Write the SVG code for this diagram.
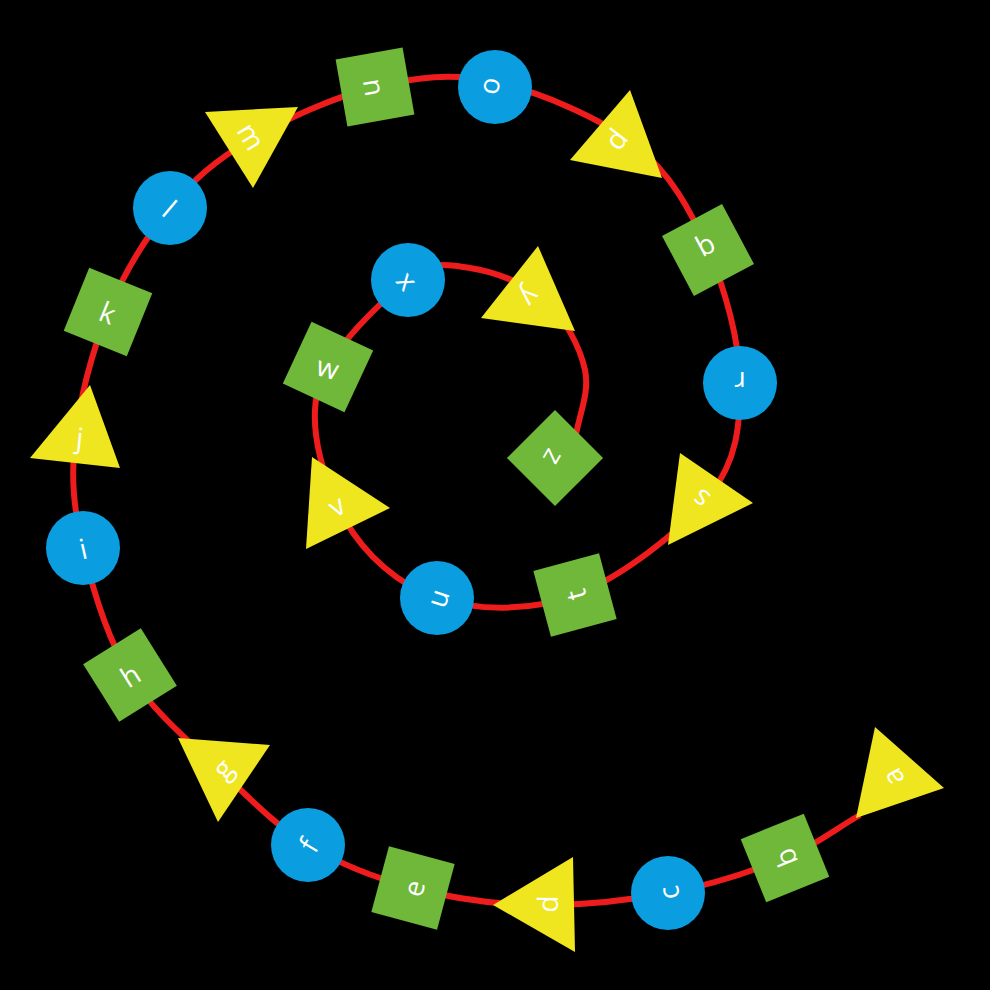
<svg xmlns="http://www.w3.org/2000/svg" width="990" height="990" viewBox="0 0 990 990">
<style>
.c{fill:#0a9ee0}.s{fill:#6fb83a}.t{fill:#f0e620}
.l{fill:#fff;font-family:"Open Sans",sans-serif;font-size:28px;text-anchor:middle;dominant-baseline:central}
</style>
<defs><rect id="sq" x="-34" y="-34" width="68" height="68"/></defs>
<rect width="990" height="990" fill="#000"/>
<g id="connectors"><path fill="none" stroke="#ee1c1c" stroke-width="6" d="M860,815 C835,829 817,845 785,858 C753,871 709.7,885.2 668,893 C626.3,900.8 577.5,905.8 535,905 C492.5,904.2 450.8,898 413,888 C375.2,878 339.3,863.8 308,845 C276.7,826.2 254.7,803.3 225,775 C195.3,746.7 153.7,712.8 130,675 C106.3,637.2 92.2,587.2 83,548 C73.8,508.8 70.8,479.3 75,440 C79.2,400.7 92.2,350.7 108,312 C123.8,273.3 146.3,236.7 170,208 C193.7,179.3 215.8,160.2 250,140 C284.2,119.8 334.2,96.7 375,87 C415.8,77.3 451.7,72.3 495,82 C538.3,91.7 599.5,117 635,145 C670.5,173 690.5,210.3 708,250 C725.5,289.7 739.7,342.2 740,383 C740.3,423.8 737.5,459.7 710,495 C682.5,530.3 620.5,577.8 575,595 C529.5,612.2 475.3,610.5 437,598 C398.7,585.5 364.8,554.7 345,520 C325.2,485.3 307.5,430 318,390 C328.5,350 382.7,300.3 408,280 C433.3,259.7 447.2,264.7 470,268 C492.8,271.3 525.8,283 545,300 C564.2,317 580,346.7 585,370 C590,393.3 578.3,416.7 575,440"/></g>
<g id="a"><polygon class="t" points="875,727 944,788 856,818"/><text class="l" transform="translate(892,778) rotate(241)">a</text></g>
<g id="b"><use href="#sq" class="s" transform="translate(785,858) rotate(-22)"/><text class="l" transform="translate(785,858) rotate(248)">b</text></g>
<g id="c"><circle class="c" cx="668" cy="893" r="37"/><text class="l" transform="translate(668,893) rotate(259)">c</text></g>
<g id="d"><polygon class="t" points="493,905 573,857 575,952"/><text class="l" transform="translate(547,904) rotate(271)">d</text></g>
<g id="e"><use href="#sq" class="s" transform="translate(413,888) rotate(15)"/><text class="l" transform="translate(413,888) rotate(285)">e</text></g>
<g id="f"><circle class="c" cx="308" cy="845" r="37"/><text class="l" transform="translate(308,845) rotate(301)">f</text></g>
<g id="g"><polygon class="t" points="178,738 270,745 218,822"/><text class="l" transform="translate(222,768) rotate(314)">g</text></g>
<g id="h"><use href="#sq" class="s" transform="translate(130,675) rotate(-32)"/><text class="l" transform="translate(130,675) rotate(328)">h</text></g>
<g id="i"><circle class="c" cx="83" cy="548" r="37"/><text class="l" transform="translate(83,548) rotate(347)">i</text></g>
<g id="j"><polygon class="t" points="30,458 90,385 120,468"/><text class="l" transform="translate(80,437) rotate(6)">j</text></g>
<g id="k"><use href="#sq" class="s" transform="translate(108,312) rotate(22)"/><text class="l" transform="translate(108,312) rotate(22)">k</text></g>
<g id="l"><circle class="c" cx="170" cy="208" r="37"/><text class="l" transform="translate(170,208) rotate(40)">l</text></g>
<g id="m"><polygon class="t" points="205,112 298,107 253,188"/><text class="l" transform="translate(252,136) rotate(59)">m</text></g>
<g id="n"><use href="#sq" class="s" transform="translate(375,87) rotate(-10)"/><text class="l" transform="translate(375,87) rotate(80)">n</text></g>
<g id="o"><circle class="c" cx="495" cy="87" r="37"/><text class="l" transform="translate(495,87) rotate(103)">o</text></g>
<g id="p"><polygon class="t" points="570,160 630,90 662,178"/><text class="l" transform="translate(621,143) rotate(128)">p</text></g>
<g id="q"><use href="#sq" class="s" transform="translate(708,250) rotate(-28)"/><text class="l" transform="translate(708,250) rotate(152)">q</text></g>
<g id="r"><circle class="c" cx="740" cy="383" r="37"/><text class="l" transform="translate(740,383) rotate(180)">r</text></g>
<g id="s"><polygon class="t" points="680,453 753,503 668,545"/><text class="l" transform="translate(700,500) rotate(218)">s</text></g>
<g id="t"><use href="#sq" class="s" transform="translate(575,595) rotate(-15)"/><text class="l" transform="translate(575,595) rotate(255)">t</text></g>
<g id="u"><circle class="c" cx="437" cy="598" r="37"/><text class="l" transform="translate(437,598) rotate(288)">u</text></g>
<g id="v"><polygon class="t" points="312,457 390,508 306,549"/><text class="l" transform="translate(336,505) rotate(330)">v</text></g>
<g id="w"><use href="#sq" class="s" transform="translate(328,367) rotate(25)"/><text class="l" transform="translate(328,367) rotate(15)">w</text></g>
<g id="x"><circle class="c" cx="408" cy="280" r="37"/><text class="l" transform="translate(408,280) rotate(51)">x</text></g>
<g id="y"><polygon class="t" points="481,318 538,246 575,331"/><text class="l" transform="translate(531,298) rotate(132)">y</text></g>
<g id="z"><use href="#sq" class="s" transform="translate(555,458) rotate(45)"/><text class="l" transform="translate(555,458) rotate(120)">z</text></g>
</svg>
